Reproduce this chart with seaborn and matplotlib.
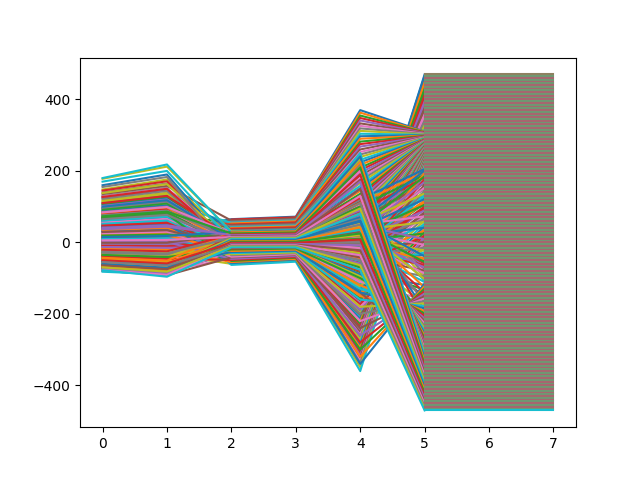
import pandas as pd
import matplotlib.pyplot as plt
import seaborn as sns

# Values, one list per x position (rows of ten follow the colour cycle)
col_0 = [
    12, -30, 45, -60, 22, -8, 78, -42, 5, -18,
    20, -40, 35, -55, 8, -25, 60, -12, -68, 48,
    -15, 33, -45, 70, -3, 16, -64, 42, -28, 6,
    30, -72, 60, -25, 10, 135, -50, 38, -12, 92,
    -35, 18, -66, 48, -5, 28, -80, 66, -20, 8,
    125, -44, 15, -58, 34, -10, 82, -28, 52, -3,
    -62, 24, -38, 72, -15, 40, -75, 6, 148, -22,
    55, -48, 20, -68, 36, -6, 95, -32, 12, -54,
    44, -16, 70, -40, 2, -78, 26, 112, -24, 58,
    -56, 16, -34, 50, -12, 30, -70, 68, -26, 9,
    160, -46, 22, -64, 38, -2, 86, -30, 54, -52,
    14, -36, 76, -20, 42, -74, 4, 130, -10, 62,
    -60, 26, -42, 46, -14, 32, -68, 18, -28, 74,
    105, -50, 11, -66, 35, -4, 56, -33, 0, -57,
    28, -19, 64, -41, 7, -76, 24, 140, -23, 48,
    -47, 13, -37, 80, -11, 39, -72, 3, 118, -27,
    59, -53, 21, -63, 33, -7, 90, -31, 10, -45,
    88, -33, 108, -12, 63, -52, 128, -5, 36, -70,
    96, 22, -44, 145, 7, -61, 74, -18, 115, 41,
    -29, 83, -66, 13, 102, -38, 56, -8, 138, -49,
    30, -75, 92, 3, -24, 68, -58, 122, 19, -41,
    18, -37, 72, -9, 50, -69, 27, 97, -46, 8,
    -59, 35, -22, 110, -77, 44, -14, 85, -31, 61,
    -53, 23, -65, 127, -3, 39, -41, 76, -19, 10,
    43, -17, 67, -39, 1, -79, 25, 155, -21, 52,
    -55, 17, -35, 47, -13, 29, -69, 65, -25, 170,
    100, -49, 19, -65, 37, -1, 84, -29, 178, 180,
    15, -43, 73, -21, 41, -71, 6, -26, -58, -82,
    -60, -67, -72, -50, -74, -64, -77, -55, -70, -78,
]
col_1 = [
    14, -36, 52, -68, 26, -10, 90, -50, 6, -22,
    23, -47, 41, -65, 9, -29, 71, -14, -81, 57,
    -18, 38, -53, 82, -4, 19, -76, 50, -33, 7,
    34, -85, 70, -30, 12, 158, -60, 44, -14, 108,
    -42, 21, -78, 56, -6, 33, -90, 78, -24, 10,
    146, -52, 18, -68, 40, -12, 96, -33, 61, -4,
    -74, 28, -45, 85, -18, 47, -88, 7, 176, -26,
    65, -57, 24, -80, 42, -7, 112, -38, 14, -64,
    52, -19, 82, -47, 3, -90, 30, 132, -28, 68,
    -66, 19, -40, 59, -14, 35, -82, 80, -31, 11,
    190, -54, 26, -76, 45, -3, 101, -35, 64, -61,
    16, -42, 89, -24, 50, -86, 5, 153, -12, 73,
    -70, 31, -50, 54, -17, 38, -80, 21, -33, 87,
    124, -59, 13, -78, 41, -5, 66, -39, 1, -67,
    33, -22, 75, -48, 8, -89, 28, 165, -27, 57,
    -55, 15, -44, 94, -13, 46, -85, 4, 139, -32,
    70, -62, 25, -74, 39, -8, 106, -37, 12, -53,
    104, -39, 128, -14, 74, -62, 151, -6, 42, -83,
    113, 26, -52, 171, 8, -72, 87, -21, 136, 48,
    -34, 98, -78, 15, 120, -45, 66, -9, 163, -58,
    35, -88, 109, 4, -28, 80, -68, 144, 22, -48,
    21, -44, 85, -11, 59, -81, 32, 114, -54, 9,
    -69, 41, -26, 130, -90, 52, -17, 100, -36, 72,
    -62, 27, -76, 150, -4, 46, -48, 89, -22, 12,
    51, -20, 79, -46, 1, -92, 30, 183, -25, 61,
    -65, 20, -41, 55, -15, 34, -81, 77, -30, 200,
    118, -58, 22, -76, 44, -1, 99, -34, 212, 218,
    18, -51, 86, -25, 48, -84, 7, -31, -68, -90,
    -71, -79, -85, -59, -87, -75, -91, -65, -82, -96,
]
col_2 = [
    -18, -16, -15, -12, -13, -9, -8, -10, -5, -7,
    -17, -14, -13, -11, -10, -8, -6, -9, -4, -6,
    -16, -15, -12, -12, -10, -9, -7, -8, -5, -5,
    65, 62, 59, 64, 56, 61, 53, 58, 51, 55,
    49, 53, 46, 50, 43, 48, 41, 45, 39, 42,
    37, 40, 34, 38, 32, 35, 29, 33, 27, 30,
    25, 28, 22, 26, 20, 23, 18, 21, 15, 19,
    12, 16, 10, 13, 7, 11, 5, 8, 2, 6,
    1, 3, -2, 2, -4, 0, -6, -3, -8, -5,
    -10, -6, -12, -8, -14, -10, -15, -12, -17, -14,
    -19, -15, -21, -17, -23, -19, -25, -21, -26, -23,
    -28, -25, -30, -27, -32, -28, -34, -30, -35, -32,
    -38, -34, -40, -36, -42, -38, -44, -40, -60, -63,
    22, 20, 17, 15, 13, 10, 8, 6, 5, 3,
    1, -1, -4, -6, -8, -10, -12, -14, -16, -18,
    -20, -22, -24, -26, -28, -30, -27, -23, -19, -15,
    -10, -5, -1, 3, 7, 11, 15, 18, 15, 11,
    9, -4, 7, -7, 4, -9, 2, -12, 8, -3,
    6, -5, 3, -8, 1, -11, 7, -2, 5, -6,
    2, -9, 0, -12, 7, -4, 4, -7, 1, -10,
    9, -2, 5, -6, 2, -8, -1, -12, 6, -4,
    -14, 6, -11, 2, -7, -1, -17, 9, -5, -21,
    12, -24, -3, 15, -9, 4, -16, 7, -4, -19,
    11, -12, 1, -7, 14, -22, -4, 10, -15, 5,
    -58, -55, -52, -49, -46, -42, -40, -36, -33, -30,
    -27, -24, -20, -17, -13, -10, -5, 0, 3, 6,
    9, 12, 15, 18, 20, 23, 25, 27, 30, 28,
    29, 28, 25, 22, 20, 17, 15, 13, 11, 9,
    6, 4, 2, -1, -4, -6, -8, -10, -12, -14,
]
col_3 = [
    -16, -15, -14, -13, -12, -10, -9, -8, -7, -6,
    -15, -14, -13, -12, -11, -9, -8, -7, -6, -5,
    -15, -14, -13, -12, -10, -9, -8, -7, -6, -5,
    72, 69, 66, 70, 63, 67, 60, 64, 58, 61,
    55, 59, 52, 56, 49, 53, 46, 50, 44, 47,
    41, 45, 38, 42, 36, 39, 33, 37, 30, 34,
    28, 31, 25, 29, 22, 26, 20, 23, 17, 21,
    14, 18, 11, 15, 8, 12, 6, 9, 3, 7,
    1, 4, -2, 2, -4, 0, -6, -3, -9, -5,
    -11, -7, -13, -9, -15, -11, -17, -13, -19, -15,
    -21, -17, -23, -19, -25, -21, -27, -23, -29, -25,
    -31, -27, -33, -29, -35, -31, -37, -33, -39, -35,
    -41, -37, -43, -39, -45, -41, -47, -43, -50, -54,
    24, 22, 19, 17, 14, 11, 9, 7, 5, 3,
    1, -1, -4, -6, -9, -11, -13, -15, -18, -20,
    -22, -24, -26, -29, -31, -33, -30, -25, -21, -16,
    -11, -6, -1, 3, 8, 12, 16, 20, 17, 12,
    10, -3, 8, -6, 5, -8, 3, -10, 9, -2,
    7, -4, 4, -7, 2, -9, 8, -1, 6, -5,
    3, -8, 1, -10, 8, -3, 5, -6, 2, -9,
    10, -1, 6, -5, 3, -7, 0, -10, 7, -3,
    -15, 7, -12, 3, -8, 0, -18, 10, -5, -22,
    13, -25, -2, 17, -10, 5, -17, 8, -3, -20,
    12, -13, 2, -7, 15, -23, -3, 11, -16, 6,
    -48, -46, -43, -41, -38, -35, -33, -30, -28, -25,
    -23, -20, -17, -14, -11, -8, -4, 0, 3, 6,
    10, 13, 16, 19, 22, 25, 28, 30, 32, 34,
    33, 31, 28, 25, 22, 19, 17, 14, 12, 10,
    7, 4, 2, -1, -4, -6, -8, -10, -12, -14,
]
col_4 = [
    -98, -90, -84, -76, -70, -62, -56, -48, -42, -36,
    -94, -87, -80, -73, -66, -59, -52, -45, -39, -33,
    -96, -88, -82, -74, -68, -60, -54, -46, -40, -34,
    370, 363, 355, 348, 341, 333, 326, 319, 312, 304,
    297, 290, 282, 275, 268, 260, 253, 246, 239, 231,
    224, 217, 209, 202, 195, 187, 180, 173, 166, 158,
    151, 144, 136, 129, 122, 114, 107, 100, 93, 85,
    78, 71, 63, 56, 49, 41, 34, 27, 20, 12,
    5, -2, -10, -17, -24, -32, -39, -46, -53, -61,
    -68, -75, -83, -90, -97, -105, -112, -119, -126, -134,
    -141, -148, -156, -163, -170, -178, -185, -192, -199, -207,
    -214, -221, -229, -236, -243, -251, -258, -265, -272, -280,
    -287, -294, -302, -309, -316, -324, -331, -338, -349, -360,
    120, 110, 100, 88, 76, 64, 52, 40, 28, 16,
    4, -8, -20, -34, -48, -62, -76, -90, -104, -118,
    -132, -146, -160, -174, -188, -202, -180, -150, -120, -90,
    -60, -30, -5, 20, 45, 70, 95, 120, 100, 70,
    60, -20, 45, -35, 30, -50, 15, -60, 55, -10,
    40, -25, 25, -40, 10, -55, 50, -5, 35, -30,
    20, -45, 5, -58, 48, -15, 28, -38, 12, -52,
    58, -8, 38, -28, 18, -42, 2, -60, 44, -18,
    -90, 40, -70, 20, -50, 0, -110, 60, -30, -130,
    80, -150, -10, 100, -60, 30, -100, 50, -20, -120,
    70, -80, 10, -40, 90, -140, -15, 65, -95, 35,
    -340, -320, -300, -280, -260, -240, -220, -200, -180, -160,
    -140, -120, -100, -80, -60, -40, -20, 0, 20, 40,
    60, 80, 100, 125, 150, 175, 200, 220, 235, 250,
    240, 225, 210, 190, 170, 150, 130, 110, 95, 80,
    60, 42, 25, 8, -8, -22, -36, -50, -64, -77,
]
col_5 = [
    470, 452, 434, 416, 398, 380, 362, 344, 330, 318,
    461, 443, 425, 407, 389, 371, 353, 337, 324, 314,
    466, 448, 430, 412, 394, 376, 358, 341, 327, 316,
    310, 309, 308, 307, 306, 305, 304, 303, 302, 301,
    300, 299, 298, 297, 296, 295, 294, 293, 292, 291,
    290, 289, 288, 287, 286, 285, 284, 283, 282, 281,
    280, 279, 278, 277, 276, 275, 274, 273, 272, 271,
    270, 269, 268, 267, 266, 265, 264, 263, 262, 261,
    260, 259, 258, 257, 256, 255, 254, 253, 252, 251,
    250, 249, 248, 247, 246, 245, 244, 243, 242, 241,
    240, 239, 238, 237, 236, 235, 234, 233, 232, 231,
    230, 229, 228, 227, 226, 225, 224, 223, 222, 221,
    220, 219, 218, 217, 216, 215, 214, 213, 212, 211,
    205, 197, 189, 181, 173, 165, 157, 149, 141, 133,
    125, 117, 109, 101, 93, 85, 77, 69, 61, 53,
    45, 37, 29, 21, 13, 5, -3, -11, -19, -27,
    -35, -43, -51, -59, -67, -75, -83, -91, -99, -107,
    201, 193, 185, 177, 169, 161, 153, 145, 137, 129,
    121, 113, 105, 97, 89, 81, 73, 65, 57, 49,
    41, 33, 25, 17, 9, 1, -7, -15, -23, -31,
    -39, -47, -55, -63, -71, -79, -87, -95, -103, -111,
    -119, -126, -133, -140, -147, -154, -161, -168, -175, -182,
    -189, -196, -203, -210, -217, -224, -231, -238, -245, -252,
    -259, -266, -273, -280, -287, -294, -301, -308, -314, -319,
    -115, -122, -129, -136, -143, -150, -157, -164, -171, -178,
    -185, -192, -199, -206, -213, -220, -227, -234, -241, -248,
    -255, -262, -269, -276, -283, -290, -297, -304, -311, -317,
    -325, -333, -341, -349, -357, -365, -373, -381, -389, -397,
    -405, -413, -421, -429, -437, -445, -452, -459, -465, -470,
]
# Flat part on the right, same value at x = 5, 6 and 7
flat_x = [5, 6, 7]
flat_levels = [
    470, 465, 460, 455, 450, 445, 440, 435, 430, 425,
    420, 415, 410, 405, 400, 395, 390, 385, 380, 375,
    370, 365, 360, 355, 350, 345, 340, 335, 330, 325,
    320, 315, 310, 305, 300, 295, 290, 285, 280, 275,
    270, 265, 260, 255, 250, 245, 240, 235, 230, 225,
    220, 215, 210, 205, 200, 195, 190, 185, 180, 175,
    170, 165, 160, 155, 150, 145, 140, 135, 130, 125,
    120, 115, 110, 105, 100, 95, 90, 85, 80, 75,
    70, 65, 60, 55, 50, 45, 40, 35, 30, 25,
    20, 15, 10, 5, 0, -5, -10, -15, -20, -25,
    -30, -35, -40, -45, -50, -55, -60, -65, -70, -75,
    -80, -85, -90, -95, -100, -105, -110, -115, -120, -125,
    -130, -135, -140, -145, -150, -155, -160, -165, -170, -175,
    -180, -185, -190, -195, -200, -205, -210, -215, -220, -225,
    -230, -235, -240, -245, -250, -255, -260, -265, -270, -275,
    -280, -285, -290, -295, -300, -305, -310, -315, -320, -325,
    -330, -335, -340, -345, -350, -355, -360, -365, -370, -375,
    -380, -385, -390, -395, -400, -405, -410, -415, -420, -425,
    -430, -435, -440, -445, -450, -455, -460, -465, -470,
]
stripe_colors = ['#a8656f', '#6f9872']

columns = [col_0, col_1, col_2, col_3, col_4, col_5]
rows = []
for x, col in enumerate(columns):
    for i, v in enumerate(col):
        rows.append({'line': i, 'x': x, 'y': v})
lines = pd.DataFrame(rows)

rows = []
for x in flat_x:
    for i, v in enumerate(flat_levels):
        rows.append({'line': i, 'x': x, 'y': v})
flat = pd.DataFrame(rows)

tab10 = sns.color_palette('tab10')
line_palette = [tab10[i % 10] for i in range(len(col_0))]
flat_palette = [stripe_colors[i % 2] for i in range(len(flat_levels))]
flat_palette[-1] = tab10[9]
flat_palette[0] = '#8f8060'

fig, ax = plt.subplots(figsize=(6.4, 4.8), dpi=100)
sns.lineplot(data=lines, x='x', y='y', hue='line', palette=line_palette, estimator=None,
             sort=False, legend=False, linewidth=1.5, ax=ax)
sns.lineplot(data=flat, x='x', y='y', hue='line', palette=flat_palette, estimator=None,
             sort=False, legend=False, linewidth=1.5, ax=ax)
ax.set_xlabel('')
ax.set_ylabel('')

plt.savefig('out.png')
